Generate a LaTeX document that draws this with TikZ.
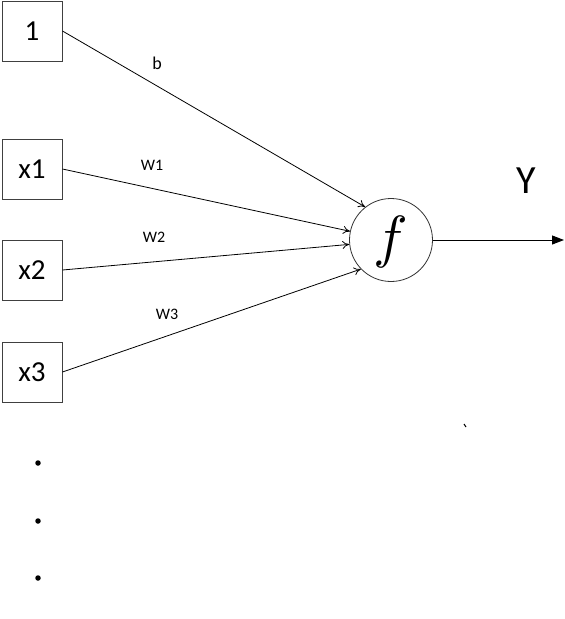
\documentclass[tikz,border=0pt]{standalone}
\usepackage{fontspec}
\usepackage{graphicx}
\setmainfont{Carlito}
\usetikzlibrary{arrows.meta}
\begin{document}
\begin{tikzpicture}[x=1pt,y=-1pt,
  inbox/.style={draw=black!75,line width=1pt,minimum width=60pt,minimum height=60pt,inner sep=0pt,font=\fontsize{29}{30}\selectfont},
  neuron/.style={draw=black!80,circle,line width=0.8pt,minimum size=83pt,inner sep=0pt},
  wire/.style={line width=0.8pt,-{To[length=7pt,width=8pt]}},
  outwire/.style={line width=1pt,-{Triangle[length=12pt,width=9pt]}},
  wlabel/.style={font=\fontsize{16}{17}\selectfont,inner sep=0pt},
  dotmark/.style={circle,fill=black,inner sep=0pt,minimum size=5.5pt}]
\useasboundingbox (0,0) rectangle (565,619);
\fill[white] (0,0) rectangle (565,619);
\node[inbox] (one) at (32,31) {1};
\node[inbox] (x1) at (32,169) {x1};
\node[inbox] (x2) at (32,270) {x2};
\node[inbox] (x3) at (32,372) {x3};
\node[neuron] (f) at (391,240) {};
\node[inner sep=0pt] (flabel) at (391,242) {\scalebox{5.8}{$f$}};
\coordinate (yend) at (564,240);
\draw[wire] (one.east |- 0,31) -- (f.128);
\draw[wire] (x1.east) -- (f.168);
\draw[wire] (x2.east) -- (f.186);
\draw[wire] (x3.east) -- (f.224);
\draw[outwire] (f.east) -- (yend);
\node[wlabel,font=\fontsize{18}{19}\selectfont] (lb) at (157,63) {b};
\node[wlabel] (lw1) at (152,165) {W1};
\node[wlabel] (lw2) at (154,237) {W2};
\node[wlabel] (lw3) at (167,314) {W3};
\node[font=\fontsize{40}{40}\selectfont,inner sep=0pt] (ly) at (526,181) {Y};
\node[dotmark] (d1) at (38,463) {};
\node[dotmark] (d2) at (38,521) {};
\node[dotmark] (d3) at (38,578) {};
\draw[line width=1pt] (464,424) -- (466,427);
\end{tikzpicture}
\end{document}
